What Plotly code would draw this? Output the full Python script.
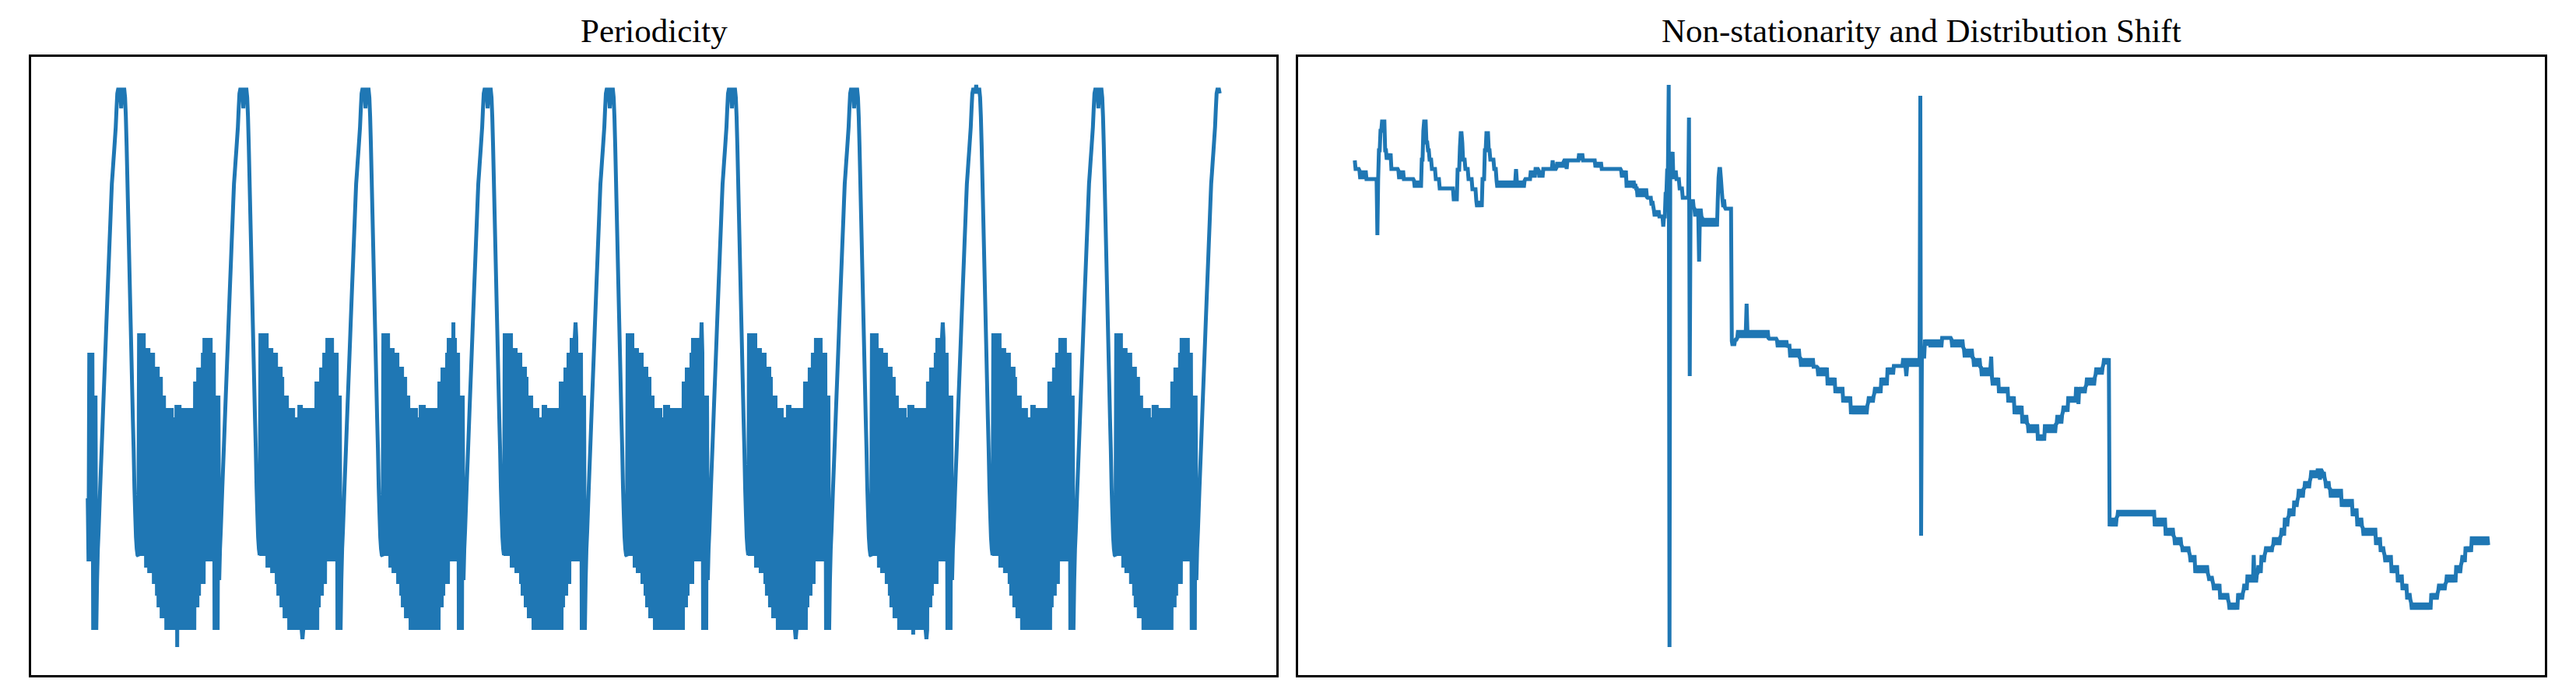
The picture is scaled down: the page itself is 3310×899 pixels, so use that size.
import numpy as np
import plotly.graph_objects as go

# =============================================================================
# DATA  (t = sample index, v = signal value in arbitrary units)
# =============================================================================

N_SAMPLES = 1456

# --- Periodicity: one cycle of the repeating pattern ------------------------
PERIOD = 157
FIRST_PEAK = 43

# rising edge, peak and falling edge (single line)
CYCLE_RISE = [86, 126, 149, 177, 205, 231, 257, 284, 311, 337, 363, 389, 416,
              442, 468, 493, 519, 544, 570, 595, 609, 624, 638, 653, 668, 691]
CYCLE_PEAK = [711, 716, 716, 716, 711, 692, 711, 716, 716, 716, 706]
CYCLE_FALL = [681, 644, 600, 556, 512, 468, 424, 381, 337, 293, 254, 205,
              171, 141, 126, 118]

# fast oscillating part: upper / lower envelope as (run length, level)
DENSE_UP_LEN = [9, 6, 6, 6, 3, 5, 9, 5, 5, 18, 5, 5, 3, 9, 5, 5]
DENSE_UP_VAL = [403, 384, 378, 360, 347, 323, 307, 295, 311, 307, 341, 359,
                378, 397, 378, 323]
DENSE_LO_LEN = [9, 5, 6, 3, 3, 4, 6, 38, 3, 3, 5, 13, 6]
DENSE_LO_VAL = [117, 102, 95, 81, 66, 51, 37, 22, 51, 66, 81, 110, 22]

# one-off outliers
LEFT_SPIKE_T = [0, 115, 276, 470, 627, 789, 910, 1061, 1078, 1099, 1142]
LEFT_SPIKE_V = [191, 0, 10, 417, 417, 417, 10, 16, 10, 417, 722]

# --- Non-stationarity: piecewise levels (end index, level A, level B) -------
# when A != B the series flickers between the two levels
RIGHT_END = [1, 6, 16, 29, 30, 31, 33, 35, 39, 41, 47, 56, 64, 76, 86, 88, 89,
             92, 94, 96, 99, 104, 109, 127, 132, 135, 136, 138, 139, 142, 146,
             151, 156, 164, 167, 169, 172, 174, 179, 182, 219, 226, 232, 236,
             242, 254, 255, 259, 269, 287, 294, 309, 317, 342, 349, 359, 362,
             376, 381, 384, 392, 399, 401, 403, 404, 405, 409, 414, 417, 421,
             429, 430, 431, 436, 446, 466, 467, 468, 470, 471, 472, 476, 484,
             489, 491, 532, 542, 556, 559, 571, 572, 589, 594, 607, 617, 627,
             637, 659, 667, 676, 684, 692, 704, 726, 727, 728, 732, 739, 754,
             766, 782, 794, 804, 817, 818, 827, 839, 847, 857, 864, 877, 886,
             901, 909, 916, 926, 939, 951, 961, 969, 979, 1027, 1041, 1052,
             1062, 1072, 1079, 1096, 1102, 1111, 1122, 1134, 1141, 1146, 1159,
             1164, 1169, 1179, 1189, 1194, 1199, 1206, 1211, 1219, 1227, 1237,
             1242, 1246, 1252, 1267, 1281, 1287, 1294, 1311, 1317, 1322, 1331,
             1339, 1345, 1351, 1356, 1382, 1391, 1401, 1414, 1421, 1426, 1434,
             1456]
RIGHT_A = [623, 612, 610, 599, 527, 599, 636, 661, 673, 636, 632, 612, 610, 599,
           597, 624, 661, 673, 646, 636, 624, 612, 599, 587, 573, 611, 640, 658,
           646, 624, 612, 599, 586, 571, 599, 636, 658, 636, 624, 612, 597, 599,
           610, 612, 610, 612, 623, 612, 621, 623, 632, 623, 621, 612, 610, 597,
           593, 587, 575, 571, 559, 551, 580, 610, 720, -2, 634, 610, 599, 587,
           575, 678, 346, 573, 561, 549, 573, 601, 612, 600, 586, 573, 561, 391,
           393, 405, 394, 392, 385, 381, 370, 369, 358, 357, 344, 332, 320, 308,
           320, 332, 344, 357, 359, 369, 706, 141, 371, 393, 393, 395, 393, 381,
           369, 357, 371, 344, 332, 320, 308, 296, 284, 271, 284, 296, 308, 320,
           332, 344, 357, 369, 164, 174, 164, 151, 139, 127, 116, 103, 89, 79,
           67, 55, 67, 79, 91, 103, 116, 127, 139, 151, 164, 176, 186, 201, 211,
           225, 225, 223, 211, 201, 188, 176, 164, 151, 139, 127, 116, 103, 91,
           79, 67, 55, 67, 79, 91, 103, 116, 127, 140]
RIGHT_B = [623, 612, 599, 599, 527, 599, 636, 661, 673, 636, 624, 612, 599, 599,
           588, 624, 661, 673, 646, 636, 624, 612, 599, 587, 573, 611, 640, 658,
           646, 624, 612, 599, 586, 563, 599, 636, 658, 636, 624, 612, 588, 599,
           601, 612, 601, 612, 623, 612, 614, 623, 623, 623, 614, 612, 601, 588,
           587, 576, 575, 565, 551, 551, 580, 610, 720, -2, 623, 599, 599, 587,
           575, 678, 346, 563, 551, 538, 573, 601, 612, 600, 586, 563, 561, 385,
           393, 395, 394, 383, 385, 370, 370, 358, 358, 346, 334, 324, 312, 297,
           312, 324, 334, 348, 359, 358, 706, 141, 371, 385, 383, 395, 383, 370,
           358, 346, 371, 334, 324, 312, 297, 285, 273, 263, 273, 285, 300, 312,
           324, 334, 348, 361, 153, 166, 153, 141, 129, 120, 107, 93, 83, 71,
           59, 46, 59, 71, 81, 93, 107, 120, 129, 141, 153, 166, 178, 190, 202,
           215, 225, 215, 202, 190, 178, 166, 153, 141, 129, 120, 107, 93, 81,
           71, 59, 46, 59, 71, 81, 93, 107, 120, 129]
RIGHT_SPIKE_T = [207, 272, 396, 442, 503, 708, 929, 1154, 1239]
RIGHT_SPIKE_V = [612, 612, 538, 493, 439, 346, 310, 116, 213]

TITLES = ["Periodicity", "Non-stationarity and Distribution Shift"]

LINE_BLUE = "#1f77b4"


# =============================================================================
# BUILD SERIES
# =============================================================================

def _expand(lengths, values):
    out = []
    for n, v in zip(lengths, values):
        out += [v] * n
    return out


edge = CYCLE_RISE + CYCLE_PEAK + CYCLE_FALL
cycle_up = np.array(edge + _expand(DENSE_UP_LEN, DENSE_UP_VAL))
cycle_lo = np.array(edge + _expand(DENSE_LO_LEN, DENSE_LO_VAL))

left_t = np.arange(N_SAMPLES)
phase = (left_t - FIRST_PEAK + len(CYCLE_RISE) + 5) % PERIOD
left_v = np.where(left_t % 2 == 0, cycle_up[phase], cycle_lo[phase]).astype(float)
left_v[LEFT_SPIKE_T] = LEFT_SPIKE_V

right_t = np.arange(N_SAMPLES)
right_v = np.zeros(N_SAMPLES)
start = 0
for end, a, b in zip(RIGHT_END, RIGHT_A, RIGHT_B):
    for t in range(start, end):
        right_v[t] = a if t % 2 == 0 else b
    start = end
right_v[RIGHT_SPIKE_T] = RIGHT_SPIKE_V


def _padded(values, frac=0.05):
    lo, hi = float(np.min(values)), float(np.max(values))
    pad = (hi - lo) * frac
    return [lo - pad, hi + pad]


# =============================================================================
# FIGURE
# =============================================================================

# the page body adds an 8 px offset, so the figure is 8 px smaller
W, H = 3302, 891
ML, MR, MT, MB = 32, 40, 65, 32
plot_w = W - ML - MR
left_dom = [0, 1600 / plot_w]
right_dom = [1628 / plot_w, 1]

frame = dict(
    showline=True,
    mirror=True,
    linecolor="black",
    linewidth=3,
    showgrid=False,
    zeroline=False,
    showticklabels=False,
    ticks="",
)

fig = go.Figure()

for tt, vv, xa, ya in [(left_t, left_v, "x", "y"), (right_t, right_v, "x2", "y2")]:
    fig.add_trace(go.Scatter(
        x=tt, y=vv, mode="lines",
        line=dict(color=LINE_BLUE, width=5, simplify=False),
        xaxis=xa, yaxis=ya, showlegend=False, hoverinfo="skip",
    ))

annotations = []
for title, dom in zip(TITLES, [left_dom, right_dom]):
    annotations.append(dict(
        text=title,
        x=(dom[0] + dom[1]) / 2,
        y=1,
        xref="paper",
        yref="paper",
        xanchor="center",
        yanchor="bottom",
        yshift=8,
        showarrow=False,
        font=dict(family="Liberation Serif", size=43, color="black"),
    ))

fig.update_layout(
    width=W,
    height=H,
    margin=dict(l=ML, r=MR, t=MT, b=MB),
    paper_bgcolor="white",
    plot_bgcolor="white",
    xaxis=dict(domain=left_dom, range=_padded(left_t), anchor="y", **frame),
    yaxis=dict(domain=[0, 1], range=_padded(left_v), anchor="x", **frame),
    xaxis2=dict(domain=right_dom, range=_padded(right_t), anchor="y2", **frame),
    yaxis2=dict(domain=[0, 1], range=_padded(right_v), anchor="x2", **frame),
    annotations=annotations,
)

fig.write_html("out.html")
